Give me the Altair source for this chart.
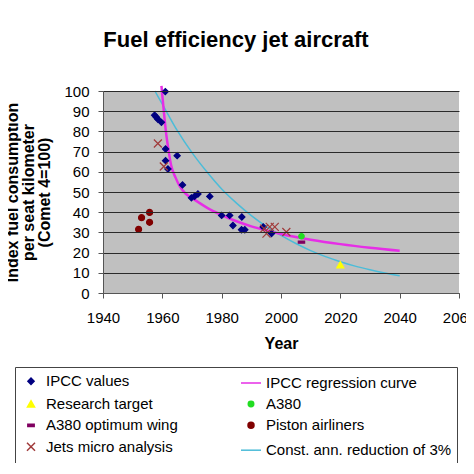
import altair as alt
import pandas as pd

FONT = "Liberation Sans"

# ---- data ----
ipcc_year = [1961.0, 1957.4, 1958.0, 1958.5, 1959.7, 1961.1, 1965.0, 1961.1, 1961.9, 1966.8,
             1969.8, 1970.9, 1972.0, 1976.0, 1980.0, 1982.7, 1983.8, 1986.8, 1986.7, 1987.8,
             1994.0, 1996.8]
ipcc_val = [99.7, 88.0, 87.0, 86.0, 84.5, 71.3, 68.0, 65.5, 61.4, 53.5,
            47.1, 47.9, 49.0, 47.8, 38.4, 38.4, 33.4, 37.6, 31.3, 31.3,
            32.7, 29.4]

target_year = [2020.0]
target_val = [14.0]

a380_year = [2006.9]
a380_val = [28.1]

a380opt_year = [2006.9]
a380opt_val = [25.2]

piston_year = [1952.0, 1953.0, 1955.7, 1955.7]
piston_val = [31.5, 37.3, 39.9, 35.0]

jets_year = [1958.5, 1960.5, 1994.3, 1995.1, 1996.2, 1997.9, 2001.8]
jets_val = [74.0, 62.6, 31.9, 29.4, 32.7, 32.7, 30.2]

reg_year = [1959.7, 1960.5, 1961.2, 1962.0, 1963.0, 1964.5, 1966.0, 1968.0, 1970.5, 1975.0,
            1980.0, 1985.0, 1990.0, 1995.0, 2000.0, 2005.0, 2010.0, 2020.0, 2030.0, 2040.0]
reg_val = [102.5, 90.0, 80.0, 71.5, 63.0, 57.0, 52.5, 49.0, 46.5, 42.3,
           38.6, 35.5, 33.0, 31.0, 29.2, 27.7, 26.4, 24.2, 22.4, 20.9]

red3_year = [1957.5, 1960, 1965, 1970, 1975, 1980, 1985, 1990, 1995, 2000,
             2005, 2010, 2015, 2020, 2025, 2030, 2035, 2040]
red3_val = [100.0, 93.5, 80.5, 69.5, 60.0, 51.5, 44.5, 38.3, 33.0, 28.5,
            24.5, 21.0, 18.0, 15.5, 13.3, 11.5, 9.9, 8.5]

# legend order (the legend fills column by column)
series_names = ["IPCC values", "Research target", "A380 optimum wing", "Jets micro analysis",
                "IPCC regression curve", "A380", "Piston airliners",
                "Const. ann. reduction of 3%"]
series_colors = ["#000080", "#ffff00", "#800060", "#a03a3a",
                 "#e62ee6", "#22dd22", "#800000", "#4cbcd8"]
DASH = "M-1,-0.35L1,-0.35L1,0.35L-1,0.35Z"
XMARK = "M-1,-1L1,1M-1,1L1,-1"
series_shapes = ["diamond", "triangle-up", DASH, XMARK, "stroke", "circle", "circle", "stroke"]
series_sizes = [38, 50, 40, 64, 400, 30, 36, 400]

x_ticks = [1940, 1960, 1980, 2000, 2020, 2040, 2060]
x_range = [1940, 2060]
y_range = [0, 100]
y_tick_count = 10

# ---- tables ----
def frame(name, xs, ys):
    return pd.DataFrame({"series": name, "year": xs, "value": ys})

points = pd.concat([
    frame("IPCC values", ipcc_year, ipcc_val),
    frame("Research target", target_year, target_val),
    frame("A380", a380_year, a380_val),
    frame("A380 optimum wing", a380opt_year, a380opt_val),
    frame("Piston airliners", piston_year, piston_val),
    frame("Jets micro analysis", jets_year, jets_val),
], ignore_index=True)
reg = frame("IPCC regression curve", reg_year, reg_val)
red3 = frame("Const. ann. reduction of 3%", red3_year, red3_val)
panel = pd.DataFrame({"year": [x_range[0]], "year2": [x_range[1]],
                      "value": [y_range[0]], "value2": [y_range[1]]})

leg = alt.Legend(orient="none", legendX=-88, legendY=276, columns=2, columnPadding=60,
                 rowPadding=5.4, padding=5, strokeColor="#444444", fillColor="white",
                 labelFont=FONT, labelFontSize=15, labelColor="black", labelOffset=4,
                 symbolStrokeWidth=1.5, labelLimit=300)

x_axis = alt.Axis(values=x_ticks, format="d", title="Year", grid=False,
                  tickSize=5, labelPadding=12, titlePadding=10,
                  labelFlush=False, labelOverlap=False, zindex=1)
y_axis = alt.Axis(tickCount=y_tick_count, format="d", grid=True, gridColor="#2a2a2a",
                  gridWidth=1, gridOpacity=1, zindex=1,
                  title=["Index fuel consumption", "per seat kilometer", "(Comet 4=100)"],
                  tickSize=5, labelPadding=9, titlePadding=11, titleLineHeight=16)
x_scale = alt.Scale(domain=x_range, nice=False, zero=False)
y_scale = alt.Scale(domain=y_range, nice=False)

def xe():
    return alt.X("year:Q", scale=x_scale, axis=x_axis)

def ye():
    return alt.Y("value:Q", scale=y_scale, axis=y_axis)

def sc():
    return alt.Scale(domain=series_names, range=series_colors)

stroke_enc = alt.Stroke("series:N", scale=sc(), legend=leg, title=None)

bg = alt.Chart(panel).mark_rect(color="#c0c0c0").encode(
    x=xe(), x2="year2:Q", y=ye(), y2="value2:Q",
)
line_reg = alt.Chart(reg).mark_line(strokeWidth=2.5, interpolate="monotone").encode(
    x=xe(), y=ye(), stroke=stroke_enc,
)
line_red = alt.Chart(red3).mark_line(strokeWidth=1.5, interpolate="monotone").encode(
    x=xe(), y=ye(), stroke=stroke_enc,
)
pts = alt.Chart(points).mark_point(filled=True, opacity=1, strokeWidth=1.2).encode(
    x=xe(), y=ye(),
    fill=alt.Fill("series:N", scale=sc(), legend=leg, title=None),
    stroke=stroke_enc,
    shape=alt.Shape("series:N", scale=alt.Scale(domain=series_names, range=series_shapes), legend=leg, title=None),
    size=alt.Size("series:N", scale=alt.Scale(type="ordinal", domain=series_names, range=series_sizes), legend=leg, title=None),
)

chart = alt.layer(bg, line_red, line_reg, pts).properties(
    width=356, height=202,
    background="white",
    autosize=alt.AutoSizeParams(type="none"),
    padding={"left": 95, "top": 83, "right": 7, "bottom": 170},
    title=alt.Title("Fuel efficiency jet aircraft", font=FONT, fontSize=22, fontWeight="bold",
                    color="black", anchor="middle", frame="group", dx=-45, offset=29),
).configure_view(
    strokeWidth=0
).configure_axis(
    labelFont=FONT, labelFontSize=15, labelColor="black",
    titleFont=FONT, titleFontSize=16, titleFontWeight="bold", titleColor="black",
    domainColor="#555555", tickColor="#555555",
)

chart.save("out.html", embed_options={"renderer": "svg", "actions": False})
